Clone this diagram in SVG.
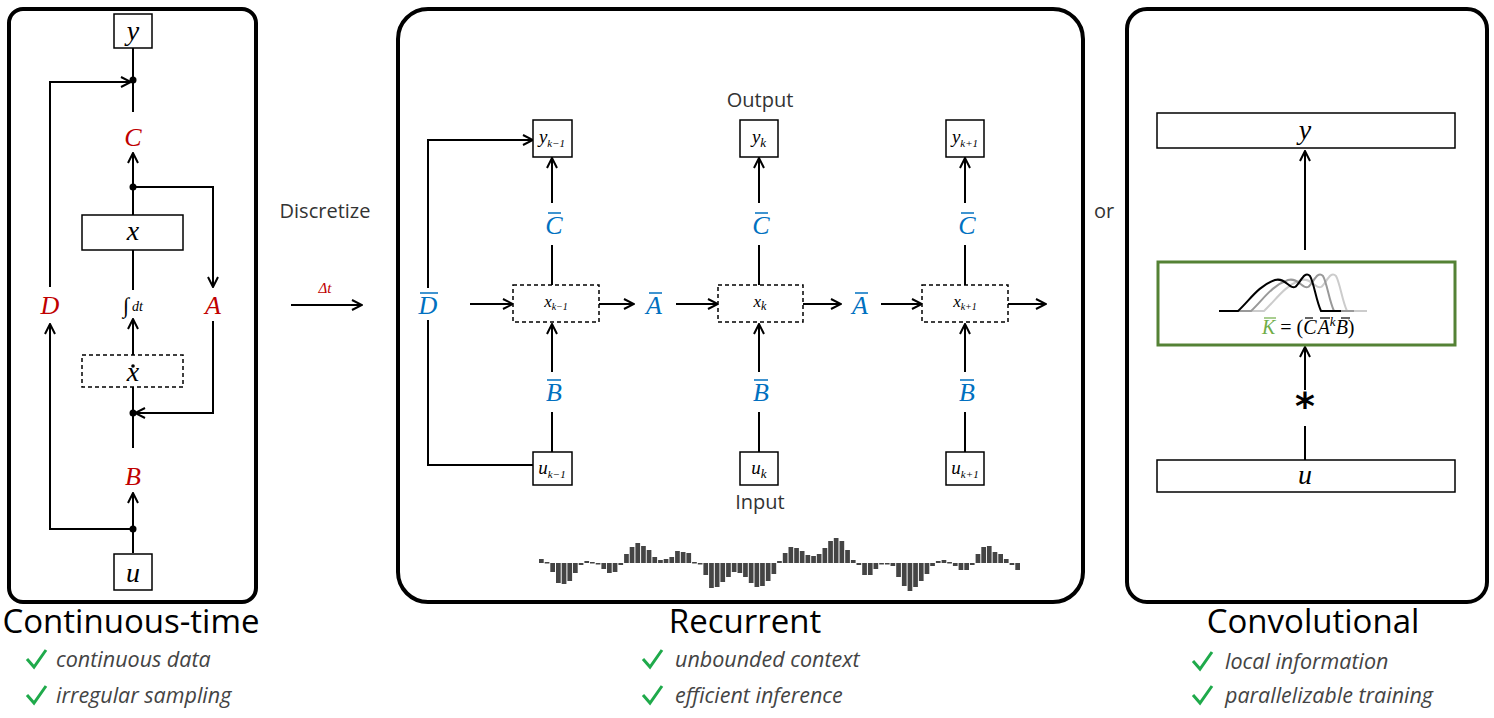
<svg xmlns="http://www.w3.org/2000/svg" width="1494" height="718" viewBox="0 0 1494 718">
<defs>
<marker id="ah" viewBox="0 0 12 12" refX="11" refY="6" markerWidth="12" markerHeight="12" markerUnits="userSpaceOnUse" orient="auto"><path d="M1 1 L11 6 L1 11" fill="none" stroke="#000" stroke-width="2"/></marker>
</defs>
<style>
.pan{fill:#fff;stroke:#000;stroke-width:4}
.box{fill:#fff;stroke:#000;stroke-width:1.5}
.dbox{fill:#fff;stroke:#000;stroke-width:1.5;stroke-dasharray:4 3}
.ln{fill:none;stroke:#000;stroke-width:2}
.ar{fill:none;stroke:#000;stroke-width:2;marker-end:url(#ah)}
.m{font-family:"Liberation Serif",serif;font-style:italic;text-anchor:middle}
.red{fill:#c00000;font-size:26px}
.blue{fill:#0070c0;font-size:26px}
.ob{stroke:#0070c0;stroke-width:1.5}
.lab{font-family:"Open Sans",sans-serif;fill:#333;text-anchor:middle;font-size:20px}
.ttl{font-family:"Open Sans",sans-serif;fill:#000;text-anchor:middle;font-size:33px}
.it{font-family:"Open Sans",sans-serif;font-style:italic;fill:#444;font-size:21.5px}
.ck{fill:none;stroke:#1faa4b;stroke-width:3}
.bar{fill:#444}
</style>
<g id="panels">
<rect class="pan" x="9" y="9" width="247" height="593" rx="14"/>
<rect class="pan" x="398" y="9" width="685" height="593" rx="30"/>
<rect class="pan" x="1127" y="9" width="360" height="593" rx="20"/>
</g>
<g id="connectors">
<line class="ln" x1="133" y1="47" x2="133" y2="112"/>
<path class="ar" d="M50 287 V82 H131"/>
<line class="ar" x1="133" y1="187" x2="133" y2="153"/>
<line class="ln" x1="133" y1="215" x2="133" y2="187"/>
<path class="ar" d="M133 187 H213 V287"/>
<line class="ln" x1="133" y1="250" x2="133" y2="290"/>
<line class="ar" x1="133" y1="355" x2="133" y2="319"/>
<path class="ar" d="M213 321 V413 H135"/>
<line class="ln" x1="133" y1="387" x2="133" y2="448"/>
<line class="ar" x1="133" y1="553" x2="133" y2="493"/>
<path class="ar" d="M133 529 H50 V324"/>
<line class="ar" x1="291" y1="305" x2="362" y2="305"/>
<path class="ar" d="M428 288 V140 H533"/>
<path class="ln" d="M428 320 V465 H533"/>
<line class="ar" x1="470" y1="304" x2="513" y2="304"/>
<line class="ar" x1="599" y1="304" x2="634" y2="304"/>
<line class="ar" x1="676" y1="304" x2="718" y2="304"/>
<line class="ar" x1="803" y1="304" x2="841" y2="304"/>
<line class="ar" x1="881" y1="304" x2="922" y2="304"/>
<line class="ar" x1="1008" y1="304" x2="1046" y2="304"/>
<line class="ar" x1="552" y1="203" x2="552" y2="158"/>
<line class="ar" x1="759" y1="203" x2="759" y2="158"/>
<line class="ar" x1="965" y1="203" x2="965" y2="158"/>
<line class="ln" x1="552" y1="245" x2="552" y2="285"/>
<line class="ln" x1="759" y1="245" x2="759" y2="285"/>
<line class="ln" x1="965" y1="245" x2="965" y2="285"/>
<line class="ar" x1="552" y1="372" x2="552" y2="324"/>
<line class="ar" x1="759" y1="372" x2="759" y2="324"/>
<line class="ar" x1="965" y1="372" x2="965" y2="324"/>
<line class="ln" x1="552" y1="412" x2="552" y2="452"/>
<line class="ln" x1="759" y1="412" x2="759" y2="452"/>
<line class="ln" x1="965" y1="412" x2="965" y2="452"/>
<line class="ar" x1="1305" y1="250" x2="1305" y2="151"/>
<line class="ln" x1="1305" y1="460" x2="1305" y2="426"/>
<line class="ar" x1="1305" y1="390" x2="1305" y2="347"/>
</g>
<g id="dots" fill="#000">
<circle cx="133" cy="80" r="3.5"/><circle cx="133" cy="187" r="3.5"/><circle cx="133" cy="413" r="3.5"/><circle cx="133" cy="529" r="3.5"/>
</g>
<g id="n-y"><rect class="box" x="114" y="14" width="38" height="34"/><text class="m" x="133" y="40" font-size="28">y</text></g>
<g id="n-C"><text class="m red" x="133" y="146">C</text></g>
<g id="n-x"><rect class="box" x="82" y="215" width="101" height="35"/><text class="m" x="133" y="240" font-size="28">x</text></g>
<g id="n-D"><text class="m red" x="50" y="314">D</text></g>
<g id="n-A"><text class="m red" x="213" y="314">A</text></g>
<g id="n-int"><text class="m" x="133" y="313" font-size="22">∫<tspan font-size="14" dx="3" dy="-2">dt</tspan></text></g>
<g id="n-xdot"><rect class="dbox" x="82" y="355" width="101" height="32"/><text class="m" x="133" y="381" font-size="28">x</text><circle cx="133" cy="366" r="1.8"/></g>
<g id="n-B"><text class="m red" x="133" y="485">B</text></g>
<g id="n-u"><rect class="box" x="114" y="554" width="38" height="36"/><text class="m" x="133" y="582" font-size="28">u</text></g>
<text class="lab" x="325" y="218">Discretize</text>
<text x="325" y="293" font-family="Liberation Serif,serif" font-style="italic" font-size="15" fill="#c00000" text-anchor="middle">Δt</text>
<text class="lab" x="760" y="107">Output</text>
<text class="lab" x="760" y="509">Input</text>
<text class="lab" x="1104" y="218">or</text>
<g id="n-Dbar"><text class="m blue" x="428" y="314">D</text><line class="ob" x1="420" y1="293" x2="438" y2="293"/></g>
<g id="col1">
<rect class="box" x="533" y="120" width="39" height="37"/><text class="m" x="552" y="143" font-size="19">y<tspan font-size="11" dy="4">k−1</tspan></text>
<text class="m blue" x="554" y="234">C</text><line class="ob" x1="548" y1="213" x2="561" y2="213"/>
<rect class="dbox" x="513" y="285" width="86" height="37"/><text class="m" x="556" y="307" font-size="17">x<tspan font-size="10" dy="3">k−1</tspan></text>
<text class="m blue" x="554" y="401">B</text><line class="ob" x1="547" y1="380" x2="561" y2="380"/>
<rect class="box" x="533" y="452" width="39" height="33"/><text class="m" x="552" y="474" font-size="19">u<tspan font-size="11" dy="4">k−1</tspan></text>
</g>
<g id="col2">
<rect class="box" x="740" y="120" width="38" height="37"/><text class="m" x="759" y="143" font-size="19">y<tspan font-size="13" dy="4">k</tspan></text>
<text class="m blue" x="761" y="234">C</text><line class="ob" x1="755" y1="213" x2="768" y2="213"/>
<rect class="dbox" x="718" y="285" width="85" height="37"/><text class="m" x="760" y="307" font-size="17">x<tspan font-size="12" dy="3">k</tspan></text>
<text class="m blue" x="761" y="401">B</text><line class="ob" x1="754" y1="380" x2="768" y2="380"/>
<rect class="box" x="740" y="452" width="38" height="33"/><text class="m" x="759" y="474" font-size="19">u<tspan font-size="13" dy="4">k</tspan></text>
</g>
<g id="col3">
<rect class="box" x="946" y="120" width="38" height="37"/><text class="m" x="965" y="143" font-size="19">y<tspan font-size="11" dy="4">k+1</tspan></text>
<text class="m blue" x="967" y="234">C</text><line class="ob" x1="961" y1="213" x2="974" y2="213"/>
<rect class="dbox" x="922" y="285" width="86" height="37"/><text class="m" x="965" y="307" font-size="17">x<tspan font-size="10" dy="3">k+1</tspan></text>
<text class="m blue" x="967" y="401">B</text><line class="ob" x1="960" y1="380" x2="974" y2="380"/>
<rect class="box" x="946" y="452" width="38" height="33"/><text class="m" x="965" y="474" font-size="19">u<tspan font-size="11" dy="4">k+1</tspan></text>
</g>
<g id="n-Abar1"><text class="m blue" x="654" y="314">A</text><line class="ob" x1="649" y1="293" x2="662" y2="293"/></g>
<g id="n-Abar2"><text class="m blue" x="860" y="314">A</text><line class="ob" x1="855" y1="293" x2="868" y2="293"/></g>
<g id="n-conv-y"><rect class="box" x="1157" y="113" width="298" height="35"/><text class="m" x="1305" y="139" font-size="28">y</text></g>
<g id="n-K">
<rect x="1158" y="262" width="297" height="83" fill="#fff" stroke="#548235" stroke-width="3"/>
<path d="M1219 311 H1238 C1250 300 1258 286 1275 280 C1285 277 1290 290 1295 287 C1300 284 1304 270 1310 276 C1314 283 1316 300 1321 311 H1341" fill="none" stroke="#ccc" stroke-width="2" transform="translate(26,0)"/>
<path d="M1219 311 H1238 C1250 300 1258 286 1275 280 C1285 277 1290 290 1295 287 C1300 284 1304 270 1310 276 C1314 283 1316 300 1321 311 H1341" fill="none" stroke="#999" stroke-width="2" transform="translate(13,0)"/>
<path d="M1219 311 H1238 C1250 300 1258 286 1275 280 C1285 277 1290 290 1295 287 C1300 284 1304 270 1310 276 C1314 283 1316 300 1321 311 H1341" fill="none" stroke="#000" stroke-width="2"/>
<text x="1262" y="334" font-family="Liberation Serif,serif" font-size="20" font-style="italic"><tspan fill="#70ad47">K</tspan><tspan font-style="normal"> = (</tspan>C<tspan dx="1">A</tspan><tspan font-size="13" dy="-8">k</tspan><tspan dy="8">B</tspan><tspan font-style="normal">)</tspan></text>
<g stroke-width="1.2"><line x1="1264" y1="318" x2="1276" y2="318" stroke="#70ad47"/><line x1="1305" y1="318" x2="1313" y2="318" stroke="#000"/><line x1="1320" y1="318" x2="1330" y2="318" stroke="#000"/><line x1="1341" y1="318" x2="1350" y2="318" stroke="#000"/></g>
</g>
<text x="1305" y="419" font-family="DejaVu Sans,sans-serif" font-weight="bold" font-size="38" text-anchor="middle">*</text>
<g id="n-conv-u"><rect class="box" x="1157" y="460" width="298" height="32"/><text class="m" x="1305" y="484" font-size="28">u</text></g>
<g id="bars" class="bar">
<rect x="539.0" y="559" width="4.7" height="4"/><rect x="544.7" y="562" width="4.7" height="1.5"/><rect x="550.3" y="563" width="4.7" height="9"/><rect x="556.0" y="563" width="4.7" height="20"/><rect x="561.7" y="563" width="4.7" height="21"/><rect x="567.4" y="563" width="4.7" height="18"/><rect x="573.0" y="563" width="4.7" height="10"/><rect x="578.7" y="563" width="4.7" height="2"/><rect x="584.4" y="561" width="4.7" height="2"/><rect x="590.0" y="562" width="4.7" height="1.5"/><rect x="595.7" y="563" width="4.7" height="1.5"/><rect x="601.4" y="563" width="4.7" height="6"/><rect x="607.0" y="563" width="4.7" height="10"/><rect x="612.7" y="563" width="4.7" height="9"/><rect x="618.4" y="563" width="4.7" height="2"/><rect x="624.1" y="554" width="4.7" height="9"/><rect x="629.7" y="547" width="4.7" height="16"/><rect x="635.4" y="543" width="4.7" height="20"/><rect x="641.1" y="546" width="4.7" height="17"/><rect x="646.7" y="550" width="4.7" height="13"/><rect x="652.4" y="557" width="4.7" height="6"/><rect x="658.1" y="560" width="4.7" height="3"/><rect x="663.7" y="559" width="4.7" height="4"/><rect x="669.4" y="557" width="4.7" height="6"/><rect x="675.1" y="551" width="4.7" height="12"/><rect x="680.8" y="552" width="4.7" height="11"/><rect x="686.4" y="553" width="4.7" height="10"/><rect x="692.1" y="562" width="4.7" height="1.5"/><rect x="697.8" y="563" width="4.7" height="1.5"/><rect x="703.4" y="563" width="4.7" height="12"/><rect x="709.1" y="563" width="4.7" height="25"/><rect x="714.8" y="563" width="4.7" height="24"/><rect x="720.4" y="563" width="4.7" height="19"/><rect x="726.1" y="563" width="4.7" height="14"/><rect x="731.8" y="563" width="4.7" height="9"/><rect x="737.5" y="563" width="4.7" height="10"/><rect x="743.1" y="563" width="4.7" height="14"/><rect x="748.8" y="563" width="4.7" height="20"/><rect x="754.5" y="563" width="4.7" height="24"/><rect x="760.1" y="563" width="4.7" height="23"/><rect x="765.8" y="563" width="4.7" height="18"/><rect x="771.5" y="563" width="4.7" height="11"/><rect x="777.1" y="561" width="4.7" height="2"/><rect x="782.8" y="553" width="4.7" height="10"/><rect x="788.5" y="547" width="4.7" height="16"/><rect x="794.2" y="548" width="4.7" height="15"/><rect x="799.8" y="551" width="4.7" height="12"/><rect x="805.5" y="555" width="4.7" height="8"/><rect x="811.2" y="556" width="4.7" height="7"/><rect x="816.8" y="554" width="4.7" height="9"/><rect x="822.5" y="548" width="4.7" height="15"/><rect x="828.2" y="541" width="4.7" height="22"/><rect x="833.8" y="538" width="4.7" height="25"/><rect x="839.5" y="541" width="4.7" height="22"/><rect x="845.2" y="550" width="4.7" height="13"/><rect x="850.9" y="560" width="4.7" height="3"/><rect x="856.5" y="563" width="4.7" height="2"/><rect x="862.2" y="563" width="4.7" height="12"/><rect x="867.9" y="563" width="4.7" height="12"/><rect x="873.5" y="563" width="4.7" height="6"/><rect x="879.2" y="563" width="4.7" height="1.5"/><rect x="884.9" y="563" width="4.7" height="1.5"/><rect x="890.5" y="563" width="4.7" height="3"/><rect x="896.2" y="563" width="4.7" height="14"/><rect x="901.9" y="563" width="4.7" height="23"/><rect x="907.6" y="563" width="4.7" height="28"/><rect x="913.2" y="563" width="4.7" height="24"/><rect x="918.9" y="563" width="4.7" height="18"/><rect x="924.6" y="563" width="4.7" height="11"/><rect x="930.2" y="563" width="4.7" height="3"/><rect x="935.9" y="561" width="4.7" height="2"/><rect x="941.6" y="560" width="4.7" height="3"/><rect x="947.2" y="562" width="4.7" height="1.5"/><rect x="952.9" y="563" width="4.7" height="3"/><rect x="958.6" y="563" width="4.7" height="7"/><rect x="964.3" y="563" width="4.7" height="7"/><rect x="969.9" y="563" width="4.7" height="2"/><rect x="975.6" y="554" width="4.7" height="9"/><rect x="981.3" y="547" width="4.7" height="16"/><rect x="986.9" y="546" width="4.7" height="17"/><rect x="992.6" y="552" width="4.7" height="11"/><rect x="998.3" y="554" width="4.7" height="9"/><rect x="1003.9" y="559" width="4.7" height="4"/><rect x="1009.6" y="563" width="4.7" height="2"/><rect x="1015.3" y="563" width="4.7" height="7"/>
</g>
<g id="titles">
<text class="ttl" x="131" y="633">Continuous-time</text>
<text class="ttl" x="745" y="633">Recurrent</text>
<text class="ttl" x="1313" y="633">Convolutional</text>
</g>
<g id="bullets">
<path class="ck" d="M27 659 L34 667 L46 650"/><text class="it" x="56" y="667">continuous data</text>
<path class="ck" d="M27 695 L34 703 L46 686"/><text class="it" x="56" y="703">irregular sampling</text>
<path class="ck" d="M643 659 L650 667 L662 650"/><text class="it" x="675" y="667">unbounded context</text>
<path class="ck" d="M643 695 L650 703 L662 686"/><text class="it" x="675" y="703">efficient inference</text>
<path class="ck" d="M1193 661 L1200 669 L1212 652"/><text class="it" x="1225" y="669">local information</text>
<path class="ck" d="M1193 695 L1200 703 L1212 686"/><text class="it" x="1225" y="703">parallelizable training</text>
</g>
</svg>
